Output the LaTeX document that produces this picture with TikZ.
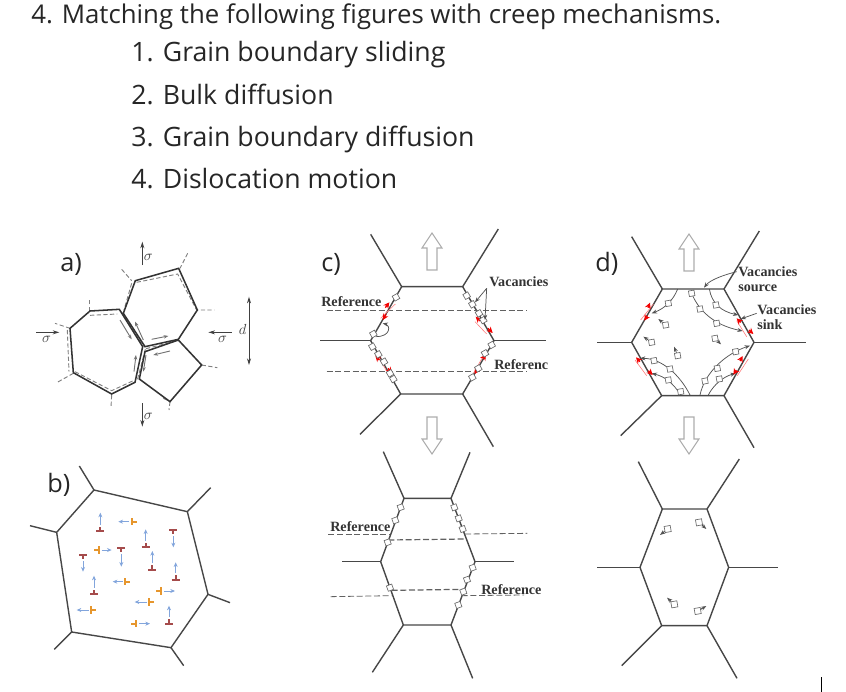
\documentclass[tikz,border=0pt]{standalone}
\usepackage{fontspec}
\usetikzlibrary{arrows.meta}
\setmainfont{Open Sans}
\newfontfamily\labelfont{Liberation Serif}
\definecolor{climbblue}{RGB}{130,165,220}
\definecolor{edgered}{RGB}{165,75,75}
\definecolor{edgeorange}{RGB}{230,150,45}
\tikzset{
  heading/.style={anchor=base west,font=\fontsize{20}{24}\selectfont,text=black!85,inner sep=0pt},
  figlabel/.style={anchor=base west,font=\fontsize{19}{23}\selectfont,text=black!85,inner sep=0pt},
  tag/.style={anchor=base west,font=\labelfont\bfseries\fontsize{10.6}{11.2}\selectfont,text=black!80,inner sep=0pt},
  grain/.style={line width=1.05pt,draw=black!72},
  agrain/.style={line width=1.15pt,draw=black!80},
  reference/.style={dash pattern=on 4.5pt off 2pt,line width=.9pt,draw=black!62},
  adash/.style={dash pattern=on 3.2pt off 1.8pt,line width=.7pt,draw=black!50},
  vac/.style={draw=black!58,fill=white,minimum size=4.2pt,inner sep=0pt,line width=.5pt},
  flow/.style={-{Stealth[length=4pt,width=3pt]},line width=.55pt,draw=black!68},
  slip/.style={-{Stealth[length=4.5pt,width=4.5pt]},line width=1pt,draw=red!95!black},
  slipline/.style={line width=.45pt,draw=red!50},
  load/.style={line width=.8pt,draw=black!32,fill=white},
  sliparrow/.style={-{Stealth[length=3.5pt,width=2.6pt]},line width=.7pt,draw=black!55},
  sigmaarrow/.style={-{Stealth[length=5pt,width=3pt]},line width=.7pt,draw=black!75},
  sigmatext/.style={text=black!72,font=\fontsize{11}{12}\selectfont},
  climb/.style={-{Stealth[length=3.5pt,width=3pt]},line width=.65pt,draw=climbblue},
  redT/.style={line width=1.35pt,draw=edgered},
  orangeT/.style={line width=1.35pt,draw=edgeorange}
}
% open block arrow: tip x, tip y, direction
\newcommand{\loadarrow}[3]{\draw[load] (#1,#2) --++(10,#3*15) --++(-5,0) --++(0,#3*22) --++(-10,0) --++(0,#3*-22) --++(-5,0) -- cycle;}
\begin{document}
\begin{tikzpicture}[x=.75pt,y=-.75pt]
\useasboundingbox (0,0) rectangle (846,692);
% question text
\node[heading,font=\fontsize{19.35}{24}\selectfont] (title) at (31,24) {4. Matching the following figures with creep mechanisms.};
\node[heading] (opt1) at (131,62) {1. Grain boundary sliding};
\node[heading] (opt2) at (131,104) {2. Bulk diffusion};
\node[heading] (opt3) at (131,146) {3. Grain boundary diffusion};
\node[heading] (opt4) at (131,188) {4. Dislocation motion};
\node[figlabel] (lab a) at (60,271) {a)};
\node[figlabel] (lab b) at (47,492) {b)};
\node[figlabel] (lab c) at (321,271) {c)};
\node[figlabel] (lab d) at (595,271) {d)};

% a) sliding
\begin{scope}[shift={(30,230)},x=.25pt,y=-.25pt]
  \draw[adash] (320,157)--(443,132)--(500,240)--(553,240);
  \draw[adash] (305,160)--(282,240);
  \draw[adash] (275,118)--(305,152);
  \draw[adash] (473,70)--(450,115);
  \draw[adash] (515,405)--(562,413);
  \draw[adash] (420,515)--(417,540);
  \draw[adash] (245,495)--(243,532);
  \draw[adash] (130,430)--(80,458);
  \draw[adash] (120,295)--(75,280);
  \draw[adash] (178,243)--(178,207);
  \draw[adash] (180,256)--(262,252);
  \draw[adash] (112,300)--(117,425);
  \draw[adash] (135,425)--(245,482)--(310,452);
  \draw[adash] (400,505)--(415,512);
  \draw[adash] (274,245)--(340,350);
  \draw[adash] (346,358)--(322,450);
  \draw[adash] (348,356)--(442,332);
  \draw[agrain] (316,152)--(446,115)--(502,240)--(445,328)--(345,350)--(280,250)--cycle;
  \draw[agrain] (180,243)--(268,238)--(338,350)--(315,457)--(245,492)--(130,428)--(120,295)--cycle;
  \draw[agrain] (345,365)--(445,330)--(515,405)--(420,515)--(328,447)--cycle;
  \draw[sliparrow] (340,330)--(315,275);
  \draw[sliparrow] (270,270)--(305,328);
  \draw[sliparrow] (365,328)--(415,318);
  \draw[sliparrow] (420,363)--(370,375);
  \draw[sliparrow] (348,375)--(340,425);
  \draw[sliparrow] (312,425)--(318,375);
  \draw[sigmaarrow] (337,105)--(337,35);
  \draw[sigmaarrow] (337,520)--(337,590);
  \draw[sigmaarrow] (18,307)--(88,307);
  \draw[sigmaarrow] (605,307)--(535,307);
  \draw[sigmaarrow,{Stealth[length=5pt,width=3pt]}-{Stealth[length=5pt,width=3pt]}] (657,200)--(657,405);
  \node[sigmatext] (sig up) at (355,82) {$\sigma$};
  \node[sigmatext] (sig down) at (355,558) {$\sigma$};
  \node[sigmatext] (sig left) at (50,328) {$\sigma$};
  \node[sigmatext] (sig right) at (578,328) {$\sigma$};
  \node[sigmatext] (size) at (638,297) {$d$};
\end{scope}

% b) dislocations
\begin{scope}[shift={(30,460)},x=.25pt,y=-.25pt]
  \draw[grain] (192,90)--(472,155)--(534,403)--(423,563)--(125,516)--(80,217)--cycle;
  \draw[grain] (192,90)--(148,18);
  \draw[grain] (472,155)--(542,83);
  \draw[grain] (534,403)--(600,428);
  \draw[grain] (423,563)--(461,617);
  \draw[grain] (125,516)--(73,568);
  \draw[grain] (80,217)--(0,197);
  % base at the bottom, arrow up
  \foreach \x/\y/\t in {211/214/158,347/262/208,367/330/273,437/359/307,192/403/347,417/491/437}{
    \draw[redT] (\x-12,\y)--(\x+12,\y) (\x,\y)--(\x,\y-14);
    \draw[climb] (\x,\y-20)--(\x,\t);
  }
  % base at the top, arrow down
  \foreach \x/\y/\t in {430/209/262,274/263/320,159/284/335}{
    \draw[redT] (\x-12,\y)--(\x+12,\y) (\x,\y)--(\x,\y+14);
    \draw[climb] (\x,\y+20)--(\x,\t);
  }
  % base to the left, arrow left
  \foreach \x/\y/\t in {305/185/265,286/365/248,358/426/314,184/450/140}{
    \draw[orangeT] (\x,\y-11)--(\x,\y+11) (\x,\y)--(\x+15,\y);
    \draw[climb] (\x-8,\y)--(\t,\y);
  }
  % base to the right, arrow right
  \foreach \x/\y/\t in {206/270/245,393/393/435,319/491/360}{
    \draw[orangeT] (\x,\y-11)--(\x,\y+11) (\x,\y)--(\x-15,\y);
    \draw[climb] (\x+9,\y)--(\t,\y);
  }
\end{scope}

% c) before
\loadarrow{432}{233}{1}
\loadarrow{432}{454}{-1}
\begin{scope}[shift={(310,225)},x=.25pt,y=-.25pt]
  \draw[grain] (275,185)--(458,185)--(552,347)--(458,507)--(272,507)--(182,347)--cycle;
  \draw[grain] (275,185)--(182,28);
  \draw[grain] (458,185)--(565,12);
  \draw[grain] (552,347)--(708,347);
  \draw[grain] (458,507)--(550,665);
  \draw[grain] (272,507)--(150,628);
  \draw[grain] (182,347)--(30,347);
  \draw[reference] (50,256)--(650,256);
  \draw[reference] (50,440)--(650,440);
  \draw[slipline] (212,280)--(256,237);
  \draw[slipline] (495,290)--(530,327);
  \draw[slipline] (208,402)--(235,446);
  \draw[slipline] (490,445)--(517,398);
  \foreach \x/\y/\a/\b in {226/248/238/232,228/268/218/285,510/288/497/275,534/310/548/324,208/405/196/392,234/430/246/444,519/402/528/388,502/433/494/447}
    \draw[slip] (\x,\y)--(\a,\b);
  \foreach \x/\y [count=\i] in {258/217,190/327,187/365,205/388,222/410,240/445,250/462,470/212,487/238,507/265,520/285,545/360,525/385,505/430,487/457}
    \node[vac,rotate=30] (cu\i) at (\x,\y) {};
  \draw[flow] (197,335) .. controls (245,335) and (240,300) .. (218,295);
\end{scope}
\node[tag] (ref c1) at (321,306) {Reference};
\node[tag] (vac c) at (489,286) {Vacancies};
\node[tag] (ref c2) at (494,369) {Referenc};
\begin{scope}[shift={(310,225)},x=.25pt,y=-.25pt]
  \coordinate (vac end) at (530,190);
  \draw[flow] (vac end)--(495,232);
  \draw[flow] (vac end)--(525,285);
\end{scope}

% c) after
\begin{scope}[shift={(320,445)},x=.25pt,y=-.25pt]
  \draw[grain] (252,160)--(393,160)--(465,350)--(393,540)--(250,540)--(182,350)--cycle;
  \draw[grain] (252,160)--(190,20);
  \draw[grain] (393,160)--(450,22);
  \draw[grain] (465,350)--(583,350);
  \draw[grain] (393,540)--(458,700);
  \draw[grain] (250,540)--(157,682);
  \draw[grain] (182,350)--(67,350);
  \draw[reference,line width=.6pt] (25,267)--(210,267);
  \draw[reference] (205,285)--(435,282);
  \draw[reference,line width=.6pt] (435,267)--(622,265);
  \draw[reference,line width=.6pt] (32,455)--(215,452);
  \draw[reference] (215,436)--(430,433);
  \draw[reference,line width=.6pt] (425,452)--(612,450);
  \foreach \x/\y [count=\i] in {242/187,226/226,203/292,210/428,403/187,416/220,428/252,458/368,441/404,430/440,415/480}
    \node[vac,rotate=20] (cl\i) at (\x,\y) {};
\end{scope}
\node[tag] (ref c3) at (330,531) {Reference};
\node[tag] (ref c4) at (481,594) {Reference};

% d) before
\loadarrow{689}{234}{1}
\loadarrow{689}{454}{-1}
\begin{scope}[shift={(590,225)},x=.25pt,y=-.25pt]
  \draw[grain] (217,192)--(402,192)--(492,352)--(402,512)--(215,512)--(125,352)--cycle;
  \draw[grain] (217,192)--(125,35);
  \draw[grain] (402,192)--(508,18);
  \draw[grain] (492,352)--(648,352);
  \draw[grain] (402,512)--(492,668);
  \draw[grain] (215,512)--(92,632);
  \draw[grain] (125,352)--(20,352);
  \draw[flow] (263,192) .. controls (250,225) and (225,250) .. (185,265);
  \draw[flow] (305,205) .. controls (325,255) and (370,300) .. (458,318);
  \draw[flow] (358,192) .. controls (365,235) and (395,260) .. (445,270);
  \draw[flow] (300,510) .. controls (270,450) and (215,400) .. (150,400);
  \draw[flow] (272,510) .. controls (250,475) and (225,455) .. (185,445);
  \draw[flow] (330,510) .. controls (345,440) and (410,385) .. (480,362);
  \draw[flow] (355,510) .. controls (370,480) and (400,455) .. (437,445);
  \draw[slipline] (152,285)--(190,237);
  \draw[slipline] (440,287)--(470,335);
  \draw[slipline] (135,405)--(170,452);
  \draw[slipline] (442,452)--(475,402);
  \foreach \x/\y/\a/\b in {174/248/180/233,172/272/163/287,452/292/440/280,477/315/490/327,150/410/138/397,175/437/188/450,450/408/458/393,439/435/430/449}
    \draw[slip] (\x,\y)--(\a,\b);
  \foreach \x/\y [count=\i] in {235/235,305/205,330/252,380/295,378/240,272/500,240/432,192/407,235/465,345/468,382/430,437/380,388/462}
    \node[vac,rotate=10] (du\i) at (\x,\y) {};
  \foreach \x/\y/\a/\b [count=\i] in {227/300/205/282,185/352/160/335,375/340/393/358,263/392/252/365}{
    \node[vac,rotate=10] (dl\i) at (\x,\y) {};
    \coordinate (de\i) at (\a,\b);
    \draw[flow] (dl\i)--(de\i);
  }
  \coordinate (src end) at (440,140);
  \coordinate (sink end) at (500,265);
  \draw[flow] (src end) .. controls (400,150) and (360,165) .. (342,188);
  \draw[flow] (sink end)--(452,282);
\end{scope}
\node[tag,align=left,anchor=north west] (src) at (738,266) {Vacancies\\source};
\node[tag,align=left,anchor=north west] (sink) at (757,304) {Vacancies\\sink};

% d) after
\begin{scope}[shift={(590,445)},x=.25pt,y=-.25pt]
  \draw[grain] (217,192)--(351,192)--(416,367)--(351,542)--(215,542)--(150,367)--cycle;
  \draw[grain] (217,192)--(145,50);
  \draw[grain] (351,192)--(448,42);
  \draw[grain] (416,367)--(565,367);
  \draw[grain] (351,542)--(441,700);
  \draw[grain] (215,542)--(95,662);
  \draw[grain] (150,367)--(20,367);
  \foreach \x/\y/\a/\b [count=\i] in {233/252/210/270,327/232/349/252,253/478/231/458,323/498/349/483}{
    \node[vac,rotate=10,minimum size=4.6pt] (dr\i) at (\x,\y) {};
    \coordinate (df\i) at (\a,\b);
    \draw[flow,line width=.8pt] (dr\i)--(df\i);
  }
\end{scope}
% text cursor
\coordinate (cur top) at (821.5,677);
\coordinate (cur bot) at (821.5,692);
\draw[line width=.8pt] (cur top)--(cur bot);
\end{tikzpicture}
\end{document}
